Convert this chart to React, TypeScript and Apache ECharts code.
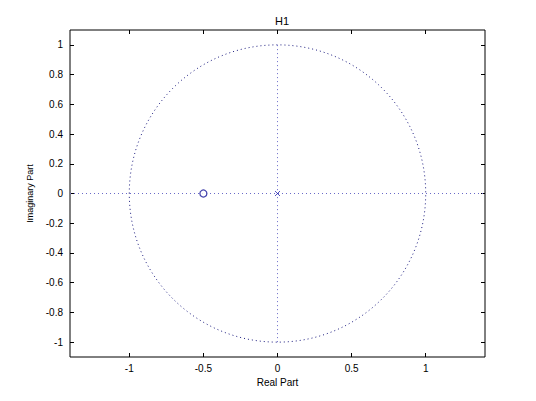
import React, { useEffect, useRef } from "react";
import * as echarts from "echarts";

const zeros: [number, number][] = [[-0.5, 0]];
const poles: [number, number][] = [[0, 0]];
const unitCircle: [number, number, number][] = [[0, 0, 1]];
const realAxisLine: [number, number][] = [[-1.4, 0], [1.4, 0]];
const imagAxisLine: [number, number][] = [[0, -1], [0, 1]];
const xTicks = [-1, -0.5, 0, 0.5, 1];
const yTicks = [-1, -0.8, -0.6, -0.4, -0.2, 0, 0.2, 0.4, 0.6, 0.8, 1];

const FONT = "Liberation Sans, Arial, sans-serif";
const CIRC = "#1c1c80";
const LINE = "#6a6ac8";

export default function App() {
  const ref = useRef<HTMLDivElement>(null);
  useEffect(() => {
    const chart = echarts.init(ref.current!, null, { renderer: "svg" });
    const axisCommon = {
      type: "value" as const,
      splitLine: { show: false },
      axisLine: { show: false, onZero: false },
      axisTick: { show: true, inside: true, length: 4, lineStyle: { color: "#000" } },
    };
    chart.setOption({
      animation: false,
      backgroundColor: "#fff",
      title: {
        text: "H1",
        left: 277,
        top: 10,
        textAlign: "center",
        textStyle: { fontFamily: FONT, fontSize: 11, fontWeight: "normal", color: "#000" },
      },
      grid: { left: 70, top: 30, right: 51, bottom: 44, show: true, borderColor: "#000", borderWidth: 1, backgroundColor: "#fff" },
      xAxis: [
        {
          ...axisCommon,
          min: -1.4,
          max: 1.4,
          position: "bottom",
          name: "Real Part",
          nameLocation: "middle",
          nameGap: 20,
          nameTextStyle: { fontFamily: FONT, fontSize: 10, color: "#000" },
          axisTick: { ...axisCommon.axisTick, customValues: xTicks },
          axisLabel: { customValues: xTicks, fontFamily: FONT, fontSize: 10, color: "#000", margin: 6 },
        },
        {
          ...axisCommon,
          min: -1.4,
          max: 1.4,
          position: "top",
          axisTick: { ...axisCommon.axisTick, customValues: xTicks },
          axisLabel: { show: false },
        },
      ],
      yAxis: [
        {
          ...axisCommon,
          min: -1.1,
          max: 1.1,
          position: "left",
          name: "Imaginary Part",
          nameLocation: "middle",
          nameGap: 32,
          nameRotate: 90,
          nameTextStyle: { fontFamily: FONT, fontSize: 9, color: "#000" },
          axisTick: { ...axisCommon.axisTick, customValues: yTicks },
          axisLabel: {
            customValues: yTicks,
            fontFamily: FONT,
            fontSize: 10,
            color: "#000",
            margin: 7,
            formatter: (v: number) => String(Math.round(v * 10) / 10),
          },
        },
        {
          ...axisCommon,
          min: -1.1,
          max: 1.1,
          position: "right",
          axisTick: { ...axisCommon.axisTick, customValues: yTicks },
          axisLabel: { show: false },
        },
      ],
      series: [
        {
          type: "custom",
          data: unitCircle,
          silent: true,
          renderItem: (params: any, api: any) => {
            const c = api.coord([api.value(0), api.value(1)]);
            const s = api.size([api.value(2), api.value(2)]);
            return {
              type: "ellipse",
              shape: { cx: c[0], cy: c[1], rx: s[0], ry: s[1] },
              style: { fill: "none", stroke: CIRC, lineWidth: 1, lineDash: [1, 3] },
            };
          },
        },
        {
          type: "line",
          data: realAxisLine,
          symbol: "none",
          silent: true,
          color: LINE,
          itemStyle: { color: LINE },
          lineStyle: { color: LINE, width: 1, type: [1, 3] },
        },
        {
          type: "line",
          data: imagAxisLine,
          symbol: "none",
          silent: true,
          color: LINE,
          itemStyle: { color: LINE },
          lineStyle: { color: LINE, width: 1, type: [1, 3] },
        },
        {
          type: "scatter",
          data: zeros,
          symbol: "circle",
          symbolSize: 7,
          itemStyle: { color: "#fff", borderColor: "#1a1a9a", borderWidth: 1.3 },
          z: 5,
        },
        {
          type: "scatter",
          data: poles,
          symbol: "path://M0,0L10,10M10,0L0,10",
          symbolSize: 5,
          itemStyle: { color: "none", borderColor: "#2a2ab0", borderWidth: 1 },
          z: 5,
        },
      ],
    });
    return () => chart.dispose();
  }, []);
  return <div ref={ref} style={{ width: 536, height: 401, position: "absolute", left: 0, top: 0 }} />;
}
